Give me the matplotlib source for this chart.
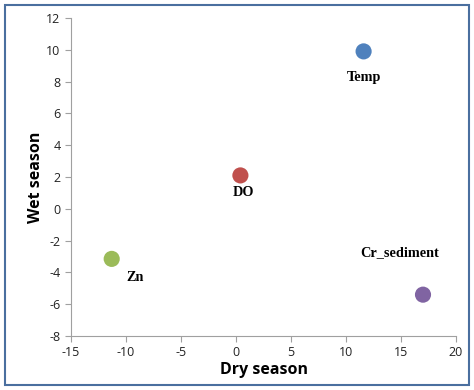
import matplotlib.pyplot as plt
from matplotlib.patches import Rectangle

plt.rcParams['axes.unicode_minus'] = False

# data
names = ['Temp', 'DO', 'Zn', 'Cr_sediment']
dry = [11.6, 0.4, -11.3, 17.0]
wet = [9.9, 2.1, -3.15, -5.4]
colors = ['#4F81BD', '#C0504D', '#9BBB59', '#8064A2']
# label offsets in pixels (dx, dy) from each point
offsets = [(0, -26), (3, -17), (23, -19), (-23, 42)]

fig = plt.figure(figsize=(4.74, 3.90), dpi=100)
ax = fig.add_axes([71 / 474, 1 - 336 / 390, 385 / 474, 318 / 390])

ax.scatter(dry, wet, s=135, c=colors, zorder=3, linewidths=0)
for n, x, y, (dx, dy) in zip(names, dry, wet, offsets):
    ax.annotate(n, (x, y), xytext=(dx * 0.72, dy * 0.72), textcoords='offset points',
                ha='center', va='center', fontsize=10.3, fontweight='bold',
                family='Liberation Serif')

ax.set_xlim(-15, 20)
ax.set_ylim(-8, 12)
ax.set_xticks(range(-15, 21, 5))
ax.set_yticks(range(-8, 13, 2))
for s in ['top', 'right']:
    ax.spines[s].set_visible(False)
for s in ['left', 'bottom']:
    ax.spines[s].set_color('#a0a0a0')
ax.tick_params(direction='out', length=4, color='#a0a0a0', labelsize=9, labelcolor='#222222')
for lab in ax.get_xticklabels() + ax.get_yticklabels():
    lab.set_family('Open Sans')

ax.set_xlabel('Dry season', fontsize=11.5, fontweight='bold', family='Open Sans', labelpad=2)
ax.set_ylabel('Wet season', fontsize=11.5, fontweight='bold', family='Open Sans', labelpad=2)

fig.patches.append(Rectangle((5 / 474, 5 / 390), 464 / 474, 380 / 390, transform=fig.transFigure,
                             fill=False, edgecolor='#4a6f9f', linewidth=1.5))

fig.savefig('out.png', dpi=100)
